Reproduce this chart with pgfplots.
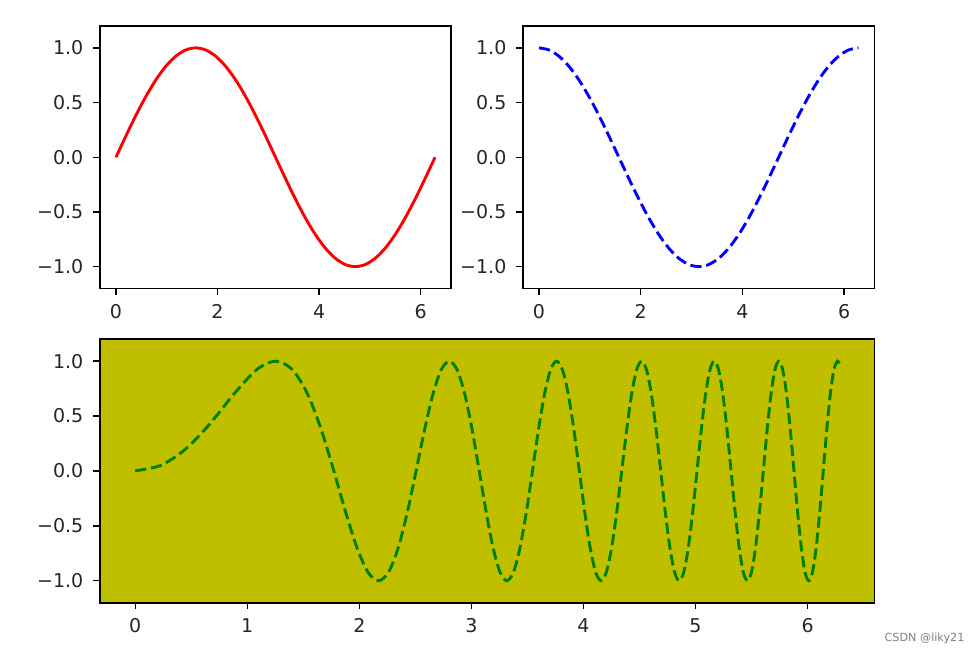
\documentclass[border=0pt]{standalone}
\usepackage{pgfplots}
\pgfplotsset{compat=1.18}
\usepackage{pgfplotstable}
\usepackage{fontspec}
\setmainfont{DejaVu Sans}

\definecolor{mplred}{rgb}{1,0,0}
\definecolor{mplblue}{rgb}{0,0,1}
\definecolor{mplgreen}{rgb}{0,0.5,0}
\definecolor{mplyellow}{rgb}{0.75,0.75,0}

% sin and cos over 0..2pi
\pgfplotstableread{
x s c
0.0000 0.0000 1.0000
0.1963 0.1951 0.9808
0.3927 0.3827 0.9239
0.5890 0.5556 0.8315
0.7854 0.7071 0.7071
0.9817 0.8315 0.5556
1.1781 0.9239 0.3827
1.3744 0.9808 0.1951
1.5708 1.0000 0.0000
1.7671 0.9808 -0.1951
1.9635 0.9239 -0.3827
2.1598 0.8315 -0.5556
2.3562 0.7071 -0.7071
2.5525 0.5556 -0.8315
2.7489 0.3827 -0.9239
2.9452 0.1951 -0.9808
3.1416 0.0000 -1.0000
3.3379 -0.1951 -0.9808
3.5343 -0.3827 -0.9239
3.7306 -0.5556 -0.8315
3.9270 -0.7071 -0.7071
4.1233 -0.8315 -0.5556
4.3197 -0.9239 -0.3827
4.5160 -0.9808 -0.1951
4.7124 -1.0000 0.0000
4.9087 -0.9808 0.1951
5.1051 -0.9239 0.3827
5.3014 -0.8315 0.5556
5.4978 -0.7071 0.7071
5.6941 -0.5556 0.8315
5.8905 -0.3827 0.9239
6.0868 -0.1951 0.9808
6.2832 0.0000 1.0000
}\trig

% sin(x^2)
\pgfplotstableread{
x y
0.0000 0.0000
0.2000 0.0400
0.3000 0.0899
0.4000 0.1593
0.5000 0.2474
0.6267 0.3827
0.7500 0.5333
0.8862 0.7071
1.0854 0.9239
1.2533 1.0000
1.4012 0.9239
1.5350 0.7071
1.6580 0.3827
1.7725 0.0000
1.8800 -0.3827
1.9817 -0.7071
2.0784 -0.9239
2.1708 -1.0000
2.2594 -0.9239
2.3447 -0.7071
2.4270 -0.3827
2.5066 0.0000
2.5838 0.3827
2.6587 0.7071
2.7315 0.9239
2.8025 1.0000
2.8717 0.9239
2.9393 0.7071
3.0053 0.3827
3.0700 0.0000
3.1333 -0.3827
3.1953 -0.7071
3.2562 -0.9239
3.3160 -1.0000
3.3746 -0.9239
3.4323 -0.7071
3.4891 -0.3827
3.5449 0.0000
3.5999 0.3827
3.6540 0.7071
3.7074 0.9239
3.7599 1.0000
3.8118 0.9239
3.8630 0.7071
3.9135 0.3827
3.9633 0.0000
4.0126 -0.3827
4.0612 -0.7071
4.1093 -0.9239
4.1568 -1.0000
4.2037 -0.9239
4.2502 -0.7071
4.2961 -0.3827
4.3416 0.0000
4.3866 0.3827
4.4311 0.7071
4.4752 0.9239
4.5189 1.0000
4.5621 0.9239
4.6050 0.7071
4.6474 0.3827
4.6895 0.0000
4.7312 -0.3827
4.7725 -0.7071
4.8134 -0.9239
4.8541 -1.0000
4.8943 -0.9239
4.9343 -0.7071
4.9739 -0.3827
5.0133 0.0000
5.0523 0.3827
5.0910 0.7071
5.1294 0.9239
5.1675 1.0000
5.2054 0.9239
5.2430 0.7071
5.2803 0.3827
5.3174 0.0000
5.3542 -0.3827
5.3907 -0.7071
5.4270 -0.9239
5.4631 -1.0000
5.4989 -0.9239
5.5345 -0.7071
5.5698 -0.3827
5.6050 0.0000
5.6399 0.3827
5.6746 0.7071
5.7091 0.9239
5.7434 1.0000
5.7775 0.9239
5.8114 0.7071
5.8451 0.3827
5.8786 0.0000
5.9119 -0.3827
5.9450 -0.7071
5.9779 -0.9239
6.0107 -1.0000
6.0433 -0.9239
6.0757 -0.7071
6.1079 -0.3827
6.1400 0.0000
6.1719 0.3827
6.2036 0.7071
6.2352 0.9239
6.2666 1.0000
6.2832 0.9780
}\chirp

\pgfplotsset{
  mplaxis/.style={
    scale only axis,
    xmin=-0.31416, xmax=6.59734,
    ymin=-1.2, ymax=1.2,
    axis line style={line width=0.8pt},
    tick pos=left,
    tick align=outside,
    major tick length=3.3pt,
    every tick/.style={black, line width=0.7pt},
    ytick={-1,-0.5,0,0.5,1},
    yticklabels={−1.0,−0.5,0.0,0.5,1.0},
    tick label style={font=\fontsize{9.5}{11}\selectfont, text=black!85},
    xticklabel style={yshift=-1pt},
    yticklabel style={xshift=-1.5pt},
  },
  mpldash/.style={line width=1.45pt, dash pattern=on 5.6pt off 2.4pt},
}

\begin{document}
\begin{tikzpicture}
\path[use as bounding box] (0,0) rectangle (488.5pt,327pt);

% top left: sin
\begin{axis}[mplaxis,
    at={(50pt,182.75pt)}, anchor=south west,
    width=175.5pt, height=131.25pt,
    xtick={0,2,4,6}, xticklabels={0,2,4,6},
]
\addplot[mplred, line width=1.45pt, smooth] table[x=x, y=s] {\trig};
\end{axis}

% top right: cos
\begin{axis}[mplaxis,
    at={(261.5pt,182.75pt)}, anchor=south west,
    width=175.75pt, height=131.25pt,
    xtick={0,2,4,6}, xticklabels={0,2,4,6},
]
\addplot[mplblue, mpldash, smooth] table[x=x, y=c] {\trig};
\end{axis}

% bottom: sin(x^2)
\begin{axis}[mplaxis,
    at={(50pt,25.65pt)}, anchor=south west,
    width=387.25pt, height=131.75pt,
    axis background/.style={fill=mplyellow},
    xtick={0,1,2,3,4,5,6}, xticklabels={0,1,2,3,4,5,6},
]
\addplot[mplgreen, mpldash, smooth] table[x=x, y=y] {\chirp};
\end{axis}

\node[font=\fontsize{5.6}{6}\selectfont, text=black!50, inner sep=0pt] at (462.25pt,8pt) {CSDN @liky21};
\end{tikzpicture}
\end{document}
